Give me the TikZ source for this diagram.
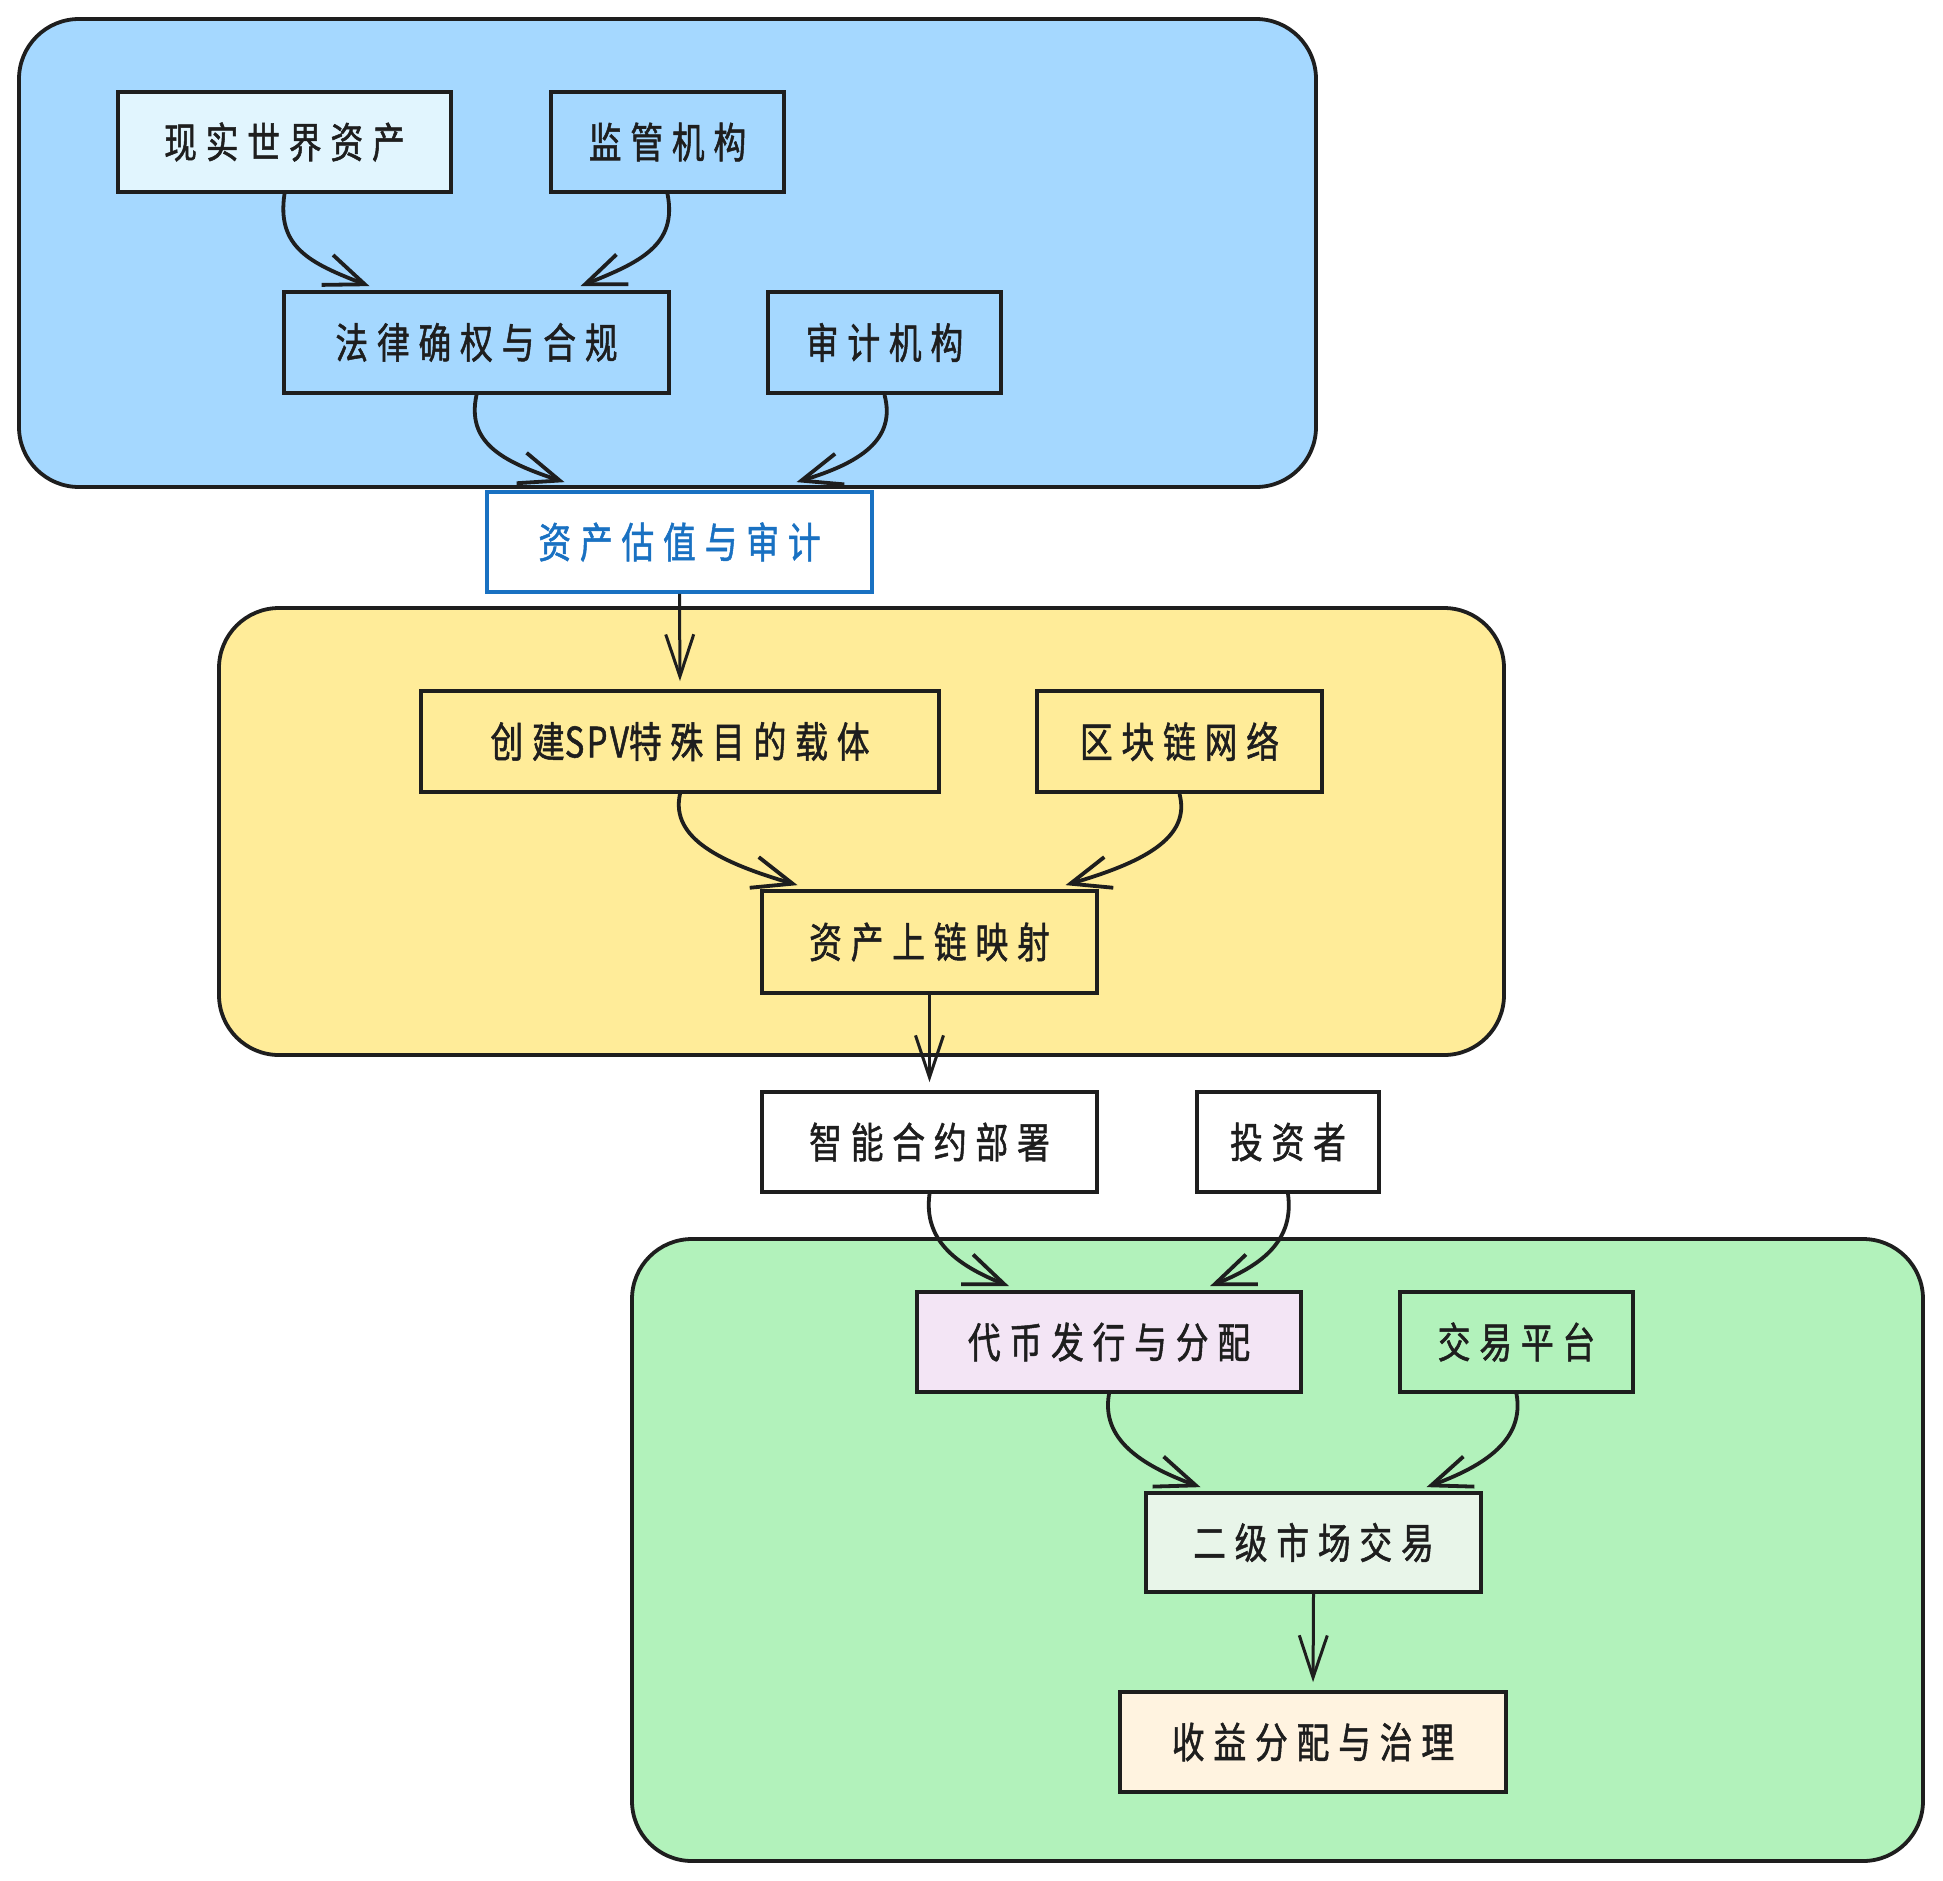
\documentclass[tikz,border=0pt]{standalone}
\usepackage{fontspec}
\newfontfamily\cjk[LetterSpace=21, FakeStretch=0.78, FakeBold=1.2]{Noto Sans CJK SC}
\newfontfamily\cjklat[LetterSpace=6, FakeStretch=0.78, FakeBold=1.2]{Noto Sans CJK SC}
\usetikzlibrary{arrows.meta,calc}
\definecolor{ink}{HTML}{1E1E1E}
\definecolor{cblue}{HTML}{A5D8FF}
\definecolor{cyellow}{HTML}{FFEC99}
\definecolor{cgreen}{HTML}{B2F2BB}
\definecolor{flight}{HTML}{E1F5FE}
\definecolor{fpurple}{HTML}{F3E5F5}
\definecolor{fmint}{HTML}{E8F5E9}
\definecolor{fcream}{HTML}{FFF3E0}
\definecolor{bluestroke}{HTML}{1971C2}
\begin{document}
\begin{tikzpicture}[x=1pt,y=-1pt,
  container/.style={draw=ink, line width=3.8pt, rounded corners=60pt},
  box/.style={draw=ink, line width=3.8pt, inner sep=0pt, text=ink,
    font=\cjk\fontsize{42pt}{48pt}\selectfont},
  flow/.style={draw=ink, line width=3.8pt,
    -{Straight Barb[length=40pt,width=32pt]}},
  sflow/.style={draw=ink, line width=3pt, shorten >=8pt,
    -{Straight Barb[length=42pt,width=28pt]}}]
\useasboundingbox (0,0) rectangle (1943,1880);
\fill[white] (0,0) rectangle (1943,1880);

% containers
\draw[container, fill=cblue] (19,19) rectangle (1316,487);
\draw[container, fill=cyellow] (219,608) rectangle (1504,1055);
\draw[container, fill=cgreen] (632,1239) rectangle (1923,1861);

% nodes
\node[box, fill=flight, minimum width=333pt, minimum height=100pt] (real) at (284.5,142) {现实世界资产};
\node[box, minimum width=233pt, minimum height=100pt] (reg) at (667.5,142) {监管机构};
\node[box, minimum width=385pt, minimum height=101pt] (legal) at (476.5,342.5) {法律确权与合规};
\node[box, minimum width=233pt, minimum height=101pt] (audit) at (884.5,342.5) {审计机构};
\node[box, draw=bluestroke, text=bluestroke, fill=white, minimum width=385pt, minimum height=100pt] (valu) at (679.5,542) {资产估值与审计};
\node[box, minimum width=518pt, minimum height=101pt] (spv) at (680,741.5) {创建{\cjklat SPV}特殊目的载体};
\node[box, minimum width=285pt, minimum height=101pt] (chain) at (1179.5,741.5) {区块链网络};
\node[box, minimum width=335pt, minimum height=102pt] (map) at (929.5,942) {资产上链映射};
\node[box, fill=white, minimum width=335pt, minimum height=100pt] (smart) at (929.5,1142) {智能合约部署};
\node[box, fill=white, minimum width=182pt, minimum height=100pt] (inv) at (1288,1142) {投资者};
\node[box, fill=fpurple, minimum width=384pt, minimum height=100pt] (token) at (1109,1342) {代币发行与分配};
\node[box, minimum width=233pt, minimum height=100pt] (trade) at (1516.5,1342) {交易平台};
\node[box, fill=fmint, minimum width=335pt, minimum height=99pt] (sec) at (1313.5,1542.5) {二级市场交易};
\node[box, fill=fcream, minimum width=386pt, minimum height=100pt] (gov) at (1313,1742) {收益分配与治理};

% connectors
\draw[flow] (real.south) .. controls +(-8,53) and +(-60,-23) .. ($(legal.north)+(-107,-4)$);
\draw[flow] (reg.south) .. controls +(10,51) and +(60,-24) .. ($(legal.north)+(104,-4)$);
\draw[flow] (legal.south) .. controls +(-10,47) and +(-64,-21) .. ($(valu.north)+(-115,-8)$);
\draw[flow] (audit.south) .. controls +(12,45) and +(63,-19) .. ($(valu.north)+(117,-8)$);
\draw[sflow] (valu.south) -- (spv.north);
\draw[flow] (spv.south) .. controls +(-10,45) and +(-75,-22) .. ($(map.north)+(-132,-4)$);
\draw[flow] (chain.south) .. controls +(12,45) and +(75,-22) .. ($(map.north)+(136,-4)$);
\draw[sflow] (map.south) -- (smart.north);
\draw[flow] (smart.south) .. controls +(-6,45) and +(-55,-22) .. ($(token.north)+(-100,-4)$);
\draw[flow] (inv.south) .. controls +(6,45) and +(55,-22) .. ($(token.north)+(101,-4)$);
\draw[flow] (token.south) .. controls +(-8,45) and +(-60,-22) .. ($(sec.north)+(-113,-4)$);
\draw[flow] (trade.south) .. controls +(8,45) and +(60,-22) .. ($(sec.north)+(113,-4)$);
\draw[sflow] (sec.south) -- (gov.north);
\end{tikzpicture}
\end{document}
